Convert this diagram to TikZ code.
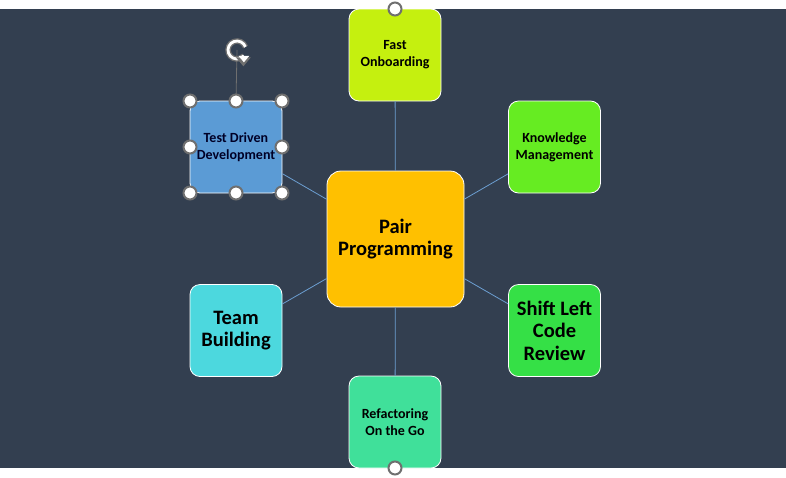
\documentclass[tikz,border=0pt]{standalone}
\usepackage{fontspec}
\setmainfont{Carlito}
\usetikzlibrary{arrows.meta}
\definecolor{slate}{HTML}{333F50}
\definecolor{gold}{HTML}{FFC000}
\definecolor{lime}{HTML}{C5F00F}
\definecolor{leaf}{HTML}{66EC22}
\definecolor{grass}{HTML}{35E046}
\definecolor{mint}{HTML}{40E09A}
\definecolor{aqua}{HTML}{4CD8DE}
\definecolor{sky}{HTML}{5B9BD5}
\definecolor{link}{HTML}{6C9FD2}
\definecolor{knob}{HTML}{6F6F6F}
\begin{document}
\begin{tikzpicture}[
        x=1pt, y=-1pt,
        core/.style={draw=white, line width=0.8pt, rounded corners=14pt, fill=gold,
            minimum width=137pt, minimum height=136pt, align=center, text=black,
            font=\bfseries\fontsize{20.5}{22}\selectfont},
        partner/.style={draw=white, line width=0.8pt, rounded corners=10pt,
            minimum width=92pt, minimum height=92pt, align=center, text=black,
            font=\bfseries\fontsize{14}{17}\selectfont},
        big/.style={font=\bfseries\fontsize{20.5}{22.5}\selectfont},
        link/.style={draw=link, line width=0.8pt},
        handle/.style={circle, draw=knob, line width=2pt, fill=white,
            minimum size=13pt, inner sep=0pt}
    ]
        \useasboundingbox (0,0) rectangle (786,477);
        \fill[slate] (0,9) rectangle (786,468);
        % hub and its partners
        \node[core] (core) at (395.5,239) {Pair\\Programming};
        \node[partner, fill=lime] (fast) at (395,55) {Fast\\Onboarding};
        \node[partner, fill=leaf] (know) at (554.5,147) {Knowledge\\Management};
        \node[partner, fill=grass, big] (shift) at (554.5,330.5) {Shift Left\\Code\\Review};
        \node[partner, fill=mint] (refac) at (395,422) {Refactoring\\On the Go};
        \node[partner, fill=aqua, big] (team) at (236,330.5) {Team\\Building};
        \node[partner, fill=sky, text=black!85!blue] (tdd) at (236,147) {Test Driven\\Development};
        \foreach \n in {fast,know,shift,refac,team,tdd} {
            \draw[link] (core) -- (\n);
        }
        % selection handles
        \coordinate (rot) at (237,50);
        \draw[knob, line width=0.8pt] (tdd.north) -- (rot);
        \foreach \p/\name in {
            {(190,101)}/h1, {(236,101)}/h2, {(282,101)}/h3,
            {(190,147)}/h4, {(282,147)}/h5,
            {(190,193)}/h6, {(236,193)}/h7, {(282,193)}/h8,
            {(395,9)}/h9, {(395,468)}/h10
        } {
            \node[handle] (\name) at \p {};
        }
        \draw[knob, line width=5.5pt] ([shift={(20:9pt)}]rot) arc[start angle=20, end angle=320, radius=9pt];
        \draw[white, line width=2.8pt] ([shift={(20:9pt)}]rot) arc[start angle=20, end angle=320, radius=9pt];
        \fill[knob] ([shift={(320:9pt)}]rot) ++(-8pt,-1.5pt) -- ++(15pt,0) -- ++(-7.5pt,-9pt) -- cycle;
        \fill[white] ([shift={(320:9pt)}]rot) ++(-5.5pt,0) -- ++(11pt,0) -- ++(-5.5pt,-6.5pt) -- cycle;
\end{tikzpicture}
\end{document}
